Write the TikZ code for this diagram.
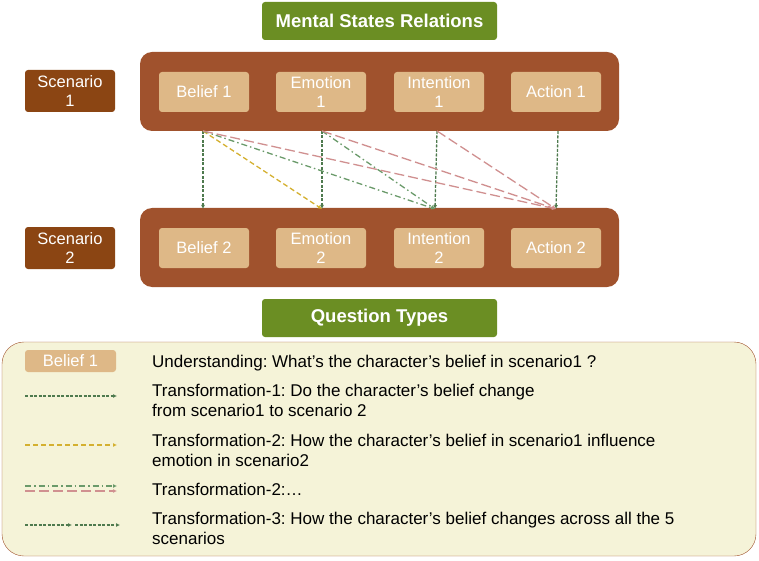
\documentclass[tikz,border=0pt]{standalone}
\usepackage{fontspec}
\setmainfont{Liberation Sans}
\frenchspacing
\usetikzlibrary{arrows.meta}
\definecolor{gtitle}{HTML}{6B8E23}
\definecolor{bbig}{HTML}{A0522D}
\definecolor{tan}{HTML}{DEB887}
\definecolor{scen}{HTML}{8B4513}
\definecolor{legbg}{HTML}{F5F3D8}
\definecolor{dgreen}{HTML}{4E7A4E}
\definecolor{ygold}{HTML}{D4B030}
\definecolor{pink}{HTML}{D09090}
\definecolor{mgreen}{HTML}{6A9A6A}
\begin{document}
\begin{tikzpicture}[x=1pt,y=-1pt,
 title/.style={fill=gtitle,rounded corners=3pt,text=white,font=\fontsize{18.5}{22}\selectfont\bfseries,minimum width=235pt,minimum height=38pt},
 big/.style={fill=bbig,rounded corners=12pt,minimum width=479pt,minimum height=79pt},
 inner/.style={fill=tan,rounded corners=3pt,text=white,font=\fontsize{16.5}{19}\selectfont,minimum width=90pt,minimum height=40pt,align=center,inner sep=1pt},
 scn/.style={fill=scen,rounded corners=3pt,text=white,font=\fontsize{16.5}{19}\selectfont,minimum width=90pt,minimum height=42pt,align=center,inner sep=1pt},
 lt/.style={anchor=west,align=left,font=\fontsize{17}{20}\selectfont,inner sep=0pt},
 tip/.style={-{Latex[length=4pt,width=4pt]}},
 vg/.style={tip,dgreen,dash pattern=on 3pt off 1.5pt,line width=1.3pt},
 yl/.style={tip,ygold,dash pattern=on 5pt off 3pt,line width=1.3pt},
 dd/.style={tip,mgreen,dash pattern=on 6pt off 3pt on 1.5pt off 3pt,line width=1.3pt},
 pk/.style={tip,pink,dash pattern=on 10pt off 4pt,line width=1.3pt}]
\useasboundingbox (0,0) rectangle (759,561);
\node[title] (t1) at (379.5,21) {Mental States Relations};
\node[big] (top) at (379.5,91.5) {};
\node[big] (bot) at (379.5,247.5) {};
\node[inner] (b1) at (204,92) {Belief 1};
\node[inner] (e1) at (321,92) {Emotion\\1};
\node[inner] (i1) at (439,92) {Intention\\1};
\node[inner] (a1) at (556,92) {Action 1};
\node[inner] (b2) at (204,248) {Belief 2};
\node[inner] (e2) at (321,248) {Emotion\\2};
\node[inner] (i2) at (439,248) {Intention\\2};
\node[inner] (a2) at (556,248) {Action 2};
\node[scn] (s1) at (70,91) {Scenario\\1};
\node[scn] (s2) at (70,248) {Scenario\\2};
\coordinate (pb1) at (203,131); \coordinate (pe1) at (322,131);
\coordinate (pi1) at (437,131); \coordinate (pa1) at (558,131);
\coordinate (qb2) at (203,209); \coordinate (qe2) at (322,209);
\coordinate (qi2) at (435,209); \coordinate (qa2) at (556,209);
\draw[vg] (pb1) -- (qb2);
\draw[vg] (pe1) -- (qe2);
\draw[vg] (pi1) -- (qi2);
\draw[vg] (pa1) -- (qa2);
\draw[yl] (pb1) -- (qe2);
\draw[dd] (pb1) -- (qi2);
\draw[dd] (pe1) -- (qi2);
\draw[pk] (pb1) -- (qa2);
\draw[pk] (pe1) -- (qa2);
\draw[pk] (pi1) -- (qa2);
\node[title] (t2) at (379.5,318) {Question Types};
\node[draw=bbig,fill=legbg,rounded corners=22pt,minimum width=754pt,minimum height=214pt] (leg) at (379,449) {};
\node[fill=tan,rounded corners=3pt,text=white,font=\fontsize{16.5}{19}\selectfont,minimum width=91pt,minimum height=22pt,inner sep=0pt] (lb) at (70.5,361) {Belief 1};
\node[lt] (l1) at (152,363) {Understanding: What's the character's belief in scenario1 ?};
\node[lt] (l2) at (152,400.5) {Transformation-1: Do the character's belief change\\from scenario1 to scenario 2};
\node[lt] (l3) at (152,450) {Transformation-2: How the character's belief in scenario1 influence\\emotion in scenario2};
\node[lt] (l4) at (152,489) {Transformation-2:…};
\node[lt] (l5) at (152,528) {Transformation-3: How the character's belief changes across all the 5\\scenarios};
\coordinate (x1a) at (25,396); \coordinate (x1b) at (117,396);
\coordinate (x2a) at (25,445); \coordinate (x2b) at (117,445);
\coordinate (x3a) at (25,486); \coordinate (x3b) at (117,486);
\coordinate (x4a) at (25,491); \coordinate (x4b) at (117,491);
\coordinate (x5a) at (25,525); \coordinate (x5m) at (72,525); \coordinate (x5c) at (75,525); \coordinate (x5b) at (120,525);
\draw[vg] (x1a) -- (x1b);
\draw[yl] (x2a) -- (x2b);
\draw[dd] (x3a) -- (x3b);
\draw[pk] (x4a) -- (x4b);
\draw[vg] (x5a) -- (x5m);
\draw[vg] (x5c) -- (x5b);
\end{tikzpicture}
\end{document}
